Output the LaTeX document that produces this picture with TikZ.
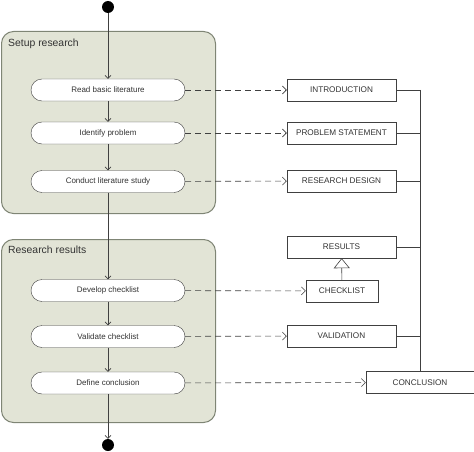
\documentclass[tikz,border=0pt]{standalone}
\usepackage{fontspec}
\setmainfont{Liberation Sans}
\usetikzlibrary{arrows.meta,positioning}
\definecolor{contfill}{HTML}{E2E4D6}
\definecolor{contline}{HTML}{7F8575}
\definecolor{ln}{HTML}{404040}
\definecolor{txt}{HTML}{333333}
\tikzset{
  container/.style={draw=contline, line width=1pt, fill=contfill, rounded corners=12pt, anchor=north west, inner sep=0pt},
  act/.style={draw=ln, fill=white, rounded corners=11pt, minimum width=154pt, minimum height=22pt, inner sep=0pt, font=\fontsize{8}{9.5}\selectfont, text=txt},
  obj/.style={draw=ln, fill=white, minimum width=109pt, minimum height=22pt, inner sep=0pt, font=\fontsize{8.2}{9.5}\selectfont, text=txt},
  flow/.style={draw=ln, line width=0.6pt, -{Straight Barb[length=3pt,width=6pt]}},
  dep/.style={draw=ln, line width=0.6pt, dash pattern=on 6pt off 4pt, -{Straight Barb[length=4pt,width=8pt]}},
  bus/.style={draw=ln, line width=0.6pt},
  gen/.style={draw=ln, line width=0.6pt, -{Triangle[open,length=10pt,width=16pt]}},
  dot/.style={circle, fill=black, minimum size=12pt, inner sep=0pt},
  clabel/.style={anchor=west, font=\fontsize{10.4}{12}\selectfont, text=txt, inner sep=0pt}
}
\begin{document}
\begin{tikzpicture}[x=1pt,y=-1pt]
\useasboundingbox (0,0) rectangle (474,452);
% containers
\node[container, minimum width=214pt, minimum height=182pt] (c1) at (1,31) {};
\node[container, minimum width=214pt, minimum height=183pt] (c2) at (1,239) {};
\node[clabel] (l1) at (8,44) {Setup research};
\node[clabel] (l2) at (8,250) {Research results};
% start / end
\node[dot] (start) at (108,7) {};
\node[dot] (end) at (108,445) {};
% activities
\node[act] (a1) at (108,90) {Read basic literature};
\node[act] (a2) at (108,133) {Identify problem};
\node[act] (a3) at (108,181.5) {Conduct literature study};
\node[act] (a4) at (108,290.5) {Develop checklist};
\node[act] (a5) at (108,336.5) {Validate checklist};
\node[act] (a6) at (108,383) {Define conclusion};
% objects
\node[obj] (o1) at (341.5,90) {INTRODUCTION};
\node[obj] (o2) at (341.5,133) {PROBLEM STATEMENT};
\node[obj] (o3) at (341.5,181) {RESEARCH DESIGN};
\node[obj] (o4) at (341.5,247) {RESULTS};
\node[obj, minimum width=72pt] (o5) at (342,291) {CHECKLIST};
\node[obj] (o6) at (341.5,336) {VALIDATION};
\node[obj, minimum width=108pt] (o7) at (420,382.5) {CONCLUSION};
% control flow
\draw[flow] (start) -- (a1);
\draw[flow] (a1) -- (a2);
\draw[flow] (a2) -- (a3);
\draw[flow] (a3) -- (a4);
\draw[flow] (a4) -- (a5);
\draw[flow] (a5) -- (a6);
\draw[flow] (a6) -- (end);
% object flows
\draw[dep] (a1) -- (o1);
\draw[dep] (a2) -- (o2);
\draw[dep] (a3) -- (o3);
\draw[dep] (a4) -- (o5);
\draw[dep] (a5) -- (o6);
\draw[dep] (a6) -- (o7);
% generalization
\draw[gen] (o5) -- (o4);
% bus
\coordinate (bt) at (o1.east -| o7.north);
\draw[bus] (bt) -- (o7.north);
\draw[bus] (o1.east) -- (bt);
\draw[bus] (o2.east) -- (o2.east -| o7.north);
\draw[bus] (o3.east) -- (o3.east -| o7.north);
\draw[bus] (o4.east) -- (o4.east -| o7.north);
\draw[bus] (o6.east) -- (o6.east -| o7.north);
\end{tikzpicture}
\end{document}
